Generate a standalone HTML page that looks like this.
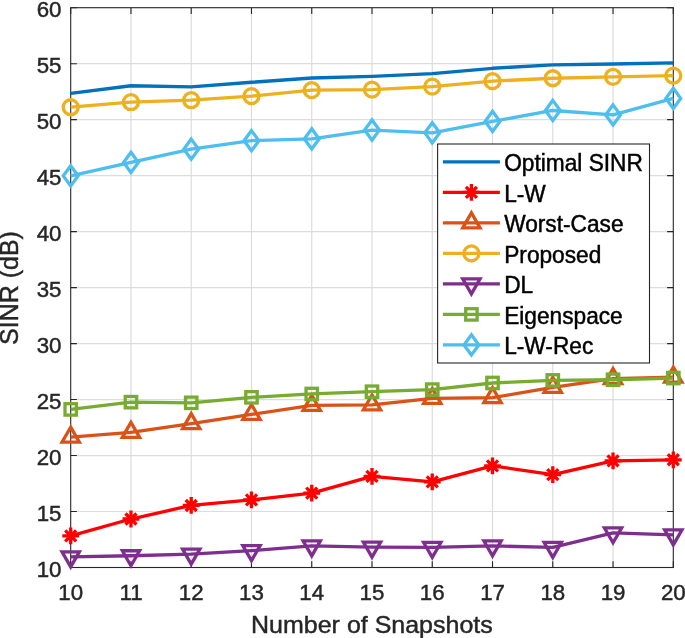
<!DOCTYPE html><html><head><meta charset="utf-8"><title>SINR vs Number of Snapshots</title><style>html,body{margin:0;padding:0;background:#fff;width:685px;height:638px;overflow:hidden;}svg{display:block;filter:blur(0.45px);}text{font-family:"Liberation Sans",Arial,sans-serif;stroke-width:0.45px;}</style></head><body>
<svg width="685" height="638" viewBox="0 0 685 638">
<rect width="685" height="638" fill="#fff"/>
<path d="M130.96 7.7V567.5M191.22 7.7V567.5M251.48 7.7V567.5M311.74 7.7V567.5M372 7.7V567.5M432.26 7.7V567.5M492.52 7.7V567.5M552.78 7.7V567.5M613.04 7.7V567.5M70.7 511.52H673.3M70.7 455.54H673.3M70.7 399.56H673.3M70.7 343.58H673.3M70.7 287.6H673.3M70.7 231.62H673.3M70.7 175.64H673.3M70.7 119.66H673.3M70.7 63.68H673.3" stroke="#dcdcdc" stroke-width="1.2" fill="none"/>
<path d="M70.7 567.5V561.3M70.7 7.7V13.9M70.7 567.5H76.9M673.3 567.5H667.1M130.96 567.5V561.3M130.96 7.7V13.9M70.7 511.52H76.9M673.3 511.52H667.1M191.22 567.5V561.3M191.22 7.7V13.9M70.7 455.54H76.9M673.3 455.54H667.1M251.48 567.5V561.3M251.48 7.7V13.9M70.7 399.56H76.9M673.3 399.56H667.1M311.74 567.5V561.3M311.74 7.7V13.9M70.7 343.58H76.9M673.3 343.58H667.1M372 567.5V561.3M372 7.7V13.9M70.7 287.6H76.9M673.3 287.6H667.1M432.26 567.5V561.3M432.26 7.7V13.9M70.7 231.62H76.9M673.3 231.62H667.1M492.52 567.5V561.3M492.52 7.7V13.9M70.7 175.64H76.9M673.3 175.64H667.1M552.78 567.5V561.3M552.78 7.7V13.9M70.7 119.66H76.9M673.3 119.66H667.1M613.04 567.5V561.3M613.04 7.7V13.9M70.7 63.68H76.9M673.3 63.68H667.1M673.3 567.5V561.3M673.3 7.7V13.9M70.7 7.7H76.9M673.3 7.7H667.1" stroke="#262626" stroke-width="1.1" fill="none"/>
<rect x="70.7" y="7.7" width="602.6" height="559.8" stroke="#262626" stroke-width="1.1" fill="none"/>
<g fill="none" stroke-width="3.3" stroke-linejoin="round">
<polyline points="70.7,93.46 130.96,85.74 191.22,86.97 251.48,82.27 311.74,78.01 372,76.33 432.26,73.53 492.52,68.27 552.78,64.8 613.04,64.02 673.3,62.9" stroke="#0072BD"/>
<polyline points="70.7,535.93 130.96,519.02 191.22,505.47 251.48,499.88 311.74,493.16 372,476.36 432.26,481.85 492.52,465.84 552.78,474.57 613.04,460.91 673.3,459.79" stroke="#FF0000"/>
<g stroke-width="3.3" stroke-linejoin="miter">
<path d="M62.3 535.93H79.1M70.7 527.53V544.33M65.2 530.43L76.2 541.43M65.2 541.43L76.2 530.43" stroke="#FF0000"/>
<path d="M122.56 519.02H139.36M130.96 510.62V527.42M125.46 513.52L136.46 524.52M125.46 524.52L136.46 513.52" stroke="#FF0000"/>
<path d="M182.82 505.47H199.62M191.22 497.07V513.87M185.72 499.97L196.72 510.97M185.72 510.97L196.72 499.97" stroke="#FF0000"/>
<path d="M243.08 499.88H259.88M251.48 491.48V508.28M245.98 494.38L256.98 505.38M245.98 505.38L256.98 494.38" stroke="#FF0000"/>
<path d="M303.34 493.16H320.14M311.74 484.76V501.56M306.24 487.66L317.24 498.66M306.24 498.66L317.24 487.66" stroke="#FF0000"/>
<path d="M363.6 476.36H380.4M372 467.96V484.76M366.5 470.86L377.5 481.86M366.5 481.86L377.5 470.86" stroke="#FF0000"/>
<path d="M423.86 481.85H440.66M432.26 473.45V490.25M426.76 476.35L437.76 487.35M426.76 487.35L437.76 476.35" stroke="#FF0000"/>
<path d="M484.12 465.84H500.92M492.52 457.44V474.24M487.02 460.34L498.02 471.34M487.02 471.34L498.02 460.34" stroke="#FF0000"/>
<path d="M544.38 474.57H561.18M552.78 466.17V482.97M547.28 469.07L558.28 480.07M547.28 480.07L558.28 469.07" stroke="#FF0000"/>
<path d="M604.64 460.91H621.44M613.04 452.51V469.31M607.54 455.41L618.54 466.41M607.54 466.41L618.54 455.41" stroke="#FF0000"/>
<path d="M664.9 459.79H681.7M673.3 451.39V468.19M667.8 454.29L678.8 465.29M667.8 465.29L678.8 454.29" stroke="#FF0000"/>
</g>
<polyline points="70.7,437.18 130.96,432.36 191.22,423.63 251.48,414.45 311.74,405.38 372,404.93 432.26,398.44 492.52,397.66 552.78,387.36 613.04,378.62 673.3,377.17" stroke="#D95319"/>
<g stroke-width="3.3" stroke-linejoin="miter">
<path d="M70.7 427.19L79.35 442.17H62.05Z" stroke="#D95319"/>
<path d="M130.96 422.38L139.61 437.36H122.31Z" stroke="#D95319"/>
<path d="M191.22 413.64L199.87 428.62H182.57Z" stroke="#D95319"/>
<path d="M251.48 404.46L260.13 419.44H242.83Z" stroke="#D95319"/>
<path d="M311.74 395.4L320.39 410.38H303.09Z" stroke="#D95319"/>
<path d="M372 394.95L380.65 409.93H363.35Z" stroke="#D95319"/>
<path d="M432.26 388.45L440.91 403.43H423.61Z" stroke="#D95319"/>
<path d="M492.52 387.67L501.17 402.65H483.87Z" stroke="#D95319"/>
<path d="M552.78 377.37L561.43 392.35H544.13Z" stroke="#D95319"/>
<path d="M613.04 368.64L621.69 383.62H604.39Z" stroke="#D95319"/>
<path d="M673.3 367.18L681.95 382.16H664.65Z" stroke="#D95319"/>
</g>
<polyline points="70.7,107.23 130.96,102.19 191.22,100.18 251.48,96.15 311.74,90.1 372,89.65 432.26,86.63 492.52,81.15 552.78,78.23 613.04,76.78 673.3,75.66" stroke="#EDB120"/>
<g stroke-width="3.3" stroke-linejoin="miter">
<circle cx="70.7" cy="107.23" r="7.5" stroke="#EDB120"/>
<circle cx="130.96" cy="102.19" r="7.5" stroke="#EDB120"/>
<circle cx="191.22" cy="100.18" r="7.5" stroke="#EDB120"/>
<circle cx="251.48" cy="96.15" r="7.5" stroke="#EDB120"/>
<circle cx="311.74" cy="90.1" r="7.5" stroke="#EDB120"/>
<circle cx="372" cy="89.65" r="7.5" stroke="#EDB120"/>
<circle cx="432.26" cy="86.63" r="7.5" stroke="#EDB120"/>
<circle cx="492.52" cy="81.15" r="7.5" stroke="#EDB120"/>
<circle cx="552.78" cy="78.23" r="7.5" stroke="#EDB120"/>
<circle cx="613.04" cy="76.78" r="7.5" stroke="#EDB120"/>
<circle cx="673.3" cy="75.66" r="7.5" stroke="#EDB120"/>
</g>
<polyline points="70.7,556.86 130.96,555.74 191.22,554.18 251.48,550.59 311.74,545.89 372,547.12 432.26,547.46 492.52,545.89 552.78,547.46 613.04,532.79 673.3,534.92" stroke="#7E2F8E"/>
<g stroke-width="3.3" stroke-linejoin="miter">
<path d="M70.7 566.85L79.35 551.87H62.05Z" stroke="#7E2F8E"/>
<path d="M130.96 565.73L139.61 550.75H122.31Z" stroke="#7E2F8E"/>
<path d="M191.22 564.16L199.87 549.18H182.57Z" stroke="#7E2F8E"/>
<path d="M251.48 560.58L260.13 545.6H242.83Z" stroke="#7E2F8E"/>
<path d="M311.74 555.88L320.39 540.9H303.09Z" stroke="#7E2F8E"/>
<path d="M372 557.11L380.65 542.13H363.35Z" stroke="#7E2F8E"/>
<path d="M432.26 557.45L440.91 542.47H423.61Z" stroke="#7E2F8E"/>
<path d="M492.52 555.88L501.17 540.9H483.87Z" stroke="#7E2F8E"/>
<path d="M552.78 557.45L561.43 542.47H544.13Z" stroke="#7E2F8E"/>
<path d="M613.04 542.78L621.69 527.8H604.39Z" stroke="#7E2F8E"/>
<path d="M673.3 544.91L681.95 529.93H664.65Z" stroke="#7E2F8E"/>
</g>
<polyline points="70.7,409.41 130.96,402.14 191.22,402.81 251.48,397.32 311.74,393.96 372,391.72 432.26,389.6 492.52,382.99 552.78,380.41 613.04,379.74 673.3,378.06" stroke="#77AC30"/>
<g stroke-width="3.3" stroke-linejoin="miter">
<rect x="65" y="403.71" width="11.4" height="11.4" stroke="#77AC30"/>
<rect x="125.26" y="396.44" width="11.4" height="11.4" stroke="#77AC30"/>
<rect x="185.52" y="397.11" width="11.4" height="11.4" stroke="#77AC30"/>
<rect x="245.78" y="391.62" width="11.4" height="11.4" stroke="#77AC30"/>
<rect x="306.04" y="388.26" width="11.4" height="11.4" stroke="#77AC30"/>
<rect x="366.3" y="386.02" width="11.4" height="11.4" stroke="#77AC30"/>
<rect x="426.56" y="383.9" width="11.4" height="11.4" stroke="#77AC30"/>
<rect x="486.82" y="377.29" width="11.4" height="11.4" stroke="#77AC30"/>
<rect x="547.08" y="374.71" width="11.4" height="11.4" stroke="#77AC30"/>
<rect x="607.34" y="374.04" width="11.4" height="11.4" stroke="#77AC30"/>
<rect x="667.6" y="372.36" width="11.4" height="11.4" stroke="#77AC30"/>
</g>
<polyline points="70.7,175.86 130.96,162.43 191.22,149.22 251.48,140.71 311.74,138.92 372,130.07 432.26,132.87 492.52,121.45 552.78,110.48 613.04,114.96 673.3,98.39" stroke="#4DBEEE"/>
<g stroke-width="3.3" stroke-linejoin="miter">
<path d="M70.7 165.76L78.1 175.86L70.7 185.96L63.3 175.86Z" stroke="#4DBEEE"/>
<path d="M130.96 152.33L138.36 162.43L130.96 172.53L123.56 162.43Z" stroke="#4DBEEE"/>
<path d="M191.22 139.12L198.62 149.22L191.22 159.32L183.82 149.22Z" stroke="#4DBEEE"/>
<path d="M251.48 130.61L258.88 140.71L251.48 150.81L244.08 140.71Z" stroke="#4DBEEE"/>
<path d="M311.74 128.82L319.14 138.92L311.74 149.02L304.34 138.92Z" stroke="#4DBEEE"/>
<path d="M372 119.97L379.4 130.07L372 140.17L364.6 130.07Z" stroke="#4DBEEE"/>
<path d="M432.26 122.77L439.66 132.87L432.26 142.97L424.86 132.87Z" stroke="#4DBEEE"/>
<path d="M492.52 111.35L499.92 121.45L492.52 131.55L485.12 121.45Z" stroke="#4DBEEE"/>
<path d="M552.78 100.38L560.18 110.48L552.78 120.58L545.38 110.48Z" stroke="#4DBEEE"/>
<path d="M613.04 104.86L620.44 114.96L613.04 125.06L605.64 114.96Z" stroke="#4DBEEE"/>
<path d="M673.3 88.29L680.7 98.39L673.3 108.49L665.9 98.39Z" stroke="#4DBEEE"/>
</g>
</g>
<g fill="#262626" stroke="#262626" font-size="22.3">
<text transform="translate(70.7,599.6) scale(1,1.02)" text-anchor="middle">10</text>
<text transform="translate(130.96,599.6) scale(1,1.02)" text-anchor="middle">11</text>
<text transform="translate(191.22,599.6) scale(1,1.02)" text-anchor="middle">12</text>
<text transform="translate(251.48,599.6) scale(1,1.02)" text-anchor="middle">13</text>
<text transform="translate(311.74,599.6) scale(1,1.02)" text-anchor="middle">14</text>
<text transform="translate(372,599.6) scale(1,1.02)" text-anchor="middle">15</text>
<text transform="translate(432.26,599.6) scale(1,1.02)" text-anchor="middle">16</text>
<text transform="translate(492.52,599.6) scale(1,1.02)" text-anchor="middle">17</text>
<text transform="translate(552.78,599.6) scale(1,1.02)" text-anchor="middle">18</text>
<text transform="translate(613.04,599.6) scale(1,1.02)" text-anchor="middle">19</text>
<text transform="translate(673.3,599.6) scale(1,1.02)" text-anchor="middle">20</text>
<text transform="translate(61.5,577.1) scale(1,1.02)" text-anchor="end">10</text>
<text transform="translate(61.5,521.12) scale(1,1.02)" text-anchor="end">15</text>
<text transform="translate(61.5,465.14) scale(1,1.02)" text-anchor="end">20</text>
<text transform="translate(61.5,409.16) scale(1,1.02)" text-anchor="end">25</text>
<text transform="translate(61.5,353.18) scale(1,1.02)" text-anchor="end">30</text>
<text transform="translate(61.5,297.2) scale(1,1.02)" text-anchor="end">35</text>
<text transform="translate(61.5,241.22) scale(1,1.02)" text-anchor="end">40</text>
<text transform="translate(61.5,185.24) scale(1,1.02)" text-anchor="end">45</text>
<text transform="translate(61.5,129.26) scale(1,1.02)" text-anchor="end">50</text>
<text transform="translate(61.5,73.28) scale(1,1.02)" text-anchor="end">55</text>
<text transform="translate(61.5,17.3) scale(1,1.02)" text-anchor="end">60</text>
</g>
<text fill="#262626" stroke="#262626" font-size="25" transform="translate(371.9,632.5) scale(1,0.99)" text-anchor="middle">Number of Snapshots</text>
<text fill="#262626" stroke="#262626" font-size="25" transform="translate(17.8,288.0) rotate(-90) scale(1,1.03)" text-anchor="middle">SINR (dB)</text>
<rect x="437.6" y="144.0" width="211.9" height="219" fill="#fff" stroke="#262626" stroke-width="1.1"/>
<g fill="none" stroke-width="3.3">
<path d="M442.9 161.9H499.9" stroke="#0072BD"/>
<path d="M442.9 192.4H499.9" stroke="#FF0000"/>
<g stroke-linejoin="miter"><path d="M463 192.4H479.8M471.4 184V200.8M465.9 186.9L476.9 197.9M465.9 197.9L476.9 186.9" stroke="#FF0000"/></g>
<path d="M442.9 222.9H499.9" stroke="#D95319"/>
<g stroke-linejoin="miter"><path d="M471.4 212.91L480.05 227.89H462.75Z" stroke="#D95319"/></g>
<path d="M442.9 253.4H499.9" stroke="#EDB120"/>
<g stroke-linejoin="miter"><circle cx="471.4" cy="253.4" r="7.5" stroke="#EDB120"/></g>
<path d="M442.9 283.9H499.9" stroke="#7E2F8E"/>
<g stroke-linejoin="miter"><path d="M471.4 293.89L480.05 278.91H462.75Z" stroke="#7E2F8E"/></g>
<path d="M442.9 314.4H499.9" stroke="#77AC30"/>
<g stroke-linejoin="miter"><rect x="465.7" y="308.7" width="11.4" height="11.4" stroke="#77AC30"/></g>
<path d="M442.9 344.9H499.9" stroke="#4DBEEE"/>
<g stroke-linejoin="miter"><path d="M471.4 334.8L478.8 344.9L471.4 355L464 344.9Z" stroke="#4DBEEE"/></g>
</g>
<g fill="#000" stroke="#000" font-size="22.7">
<text transform="translate(504.2,171.2) scale(1,1.02)">Optimal SINR</text>
<text transform="translate(504.2,201.7) scale(1,1.02)">L-W</text>
<text transform="translate(504.2,232.2) scale(1,1.02)">Worst-Case</text>
<text transform="translate(504.2,262.7) scale(1,1.02)">Proposed</text>
<text transform="translate(504.2,293.2) scale(1,1.02)">DL</text>
<text transform="translate(504.2,323.7) scale(1,1.02)">Eigenspace</text>
<text transform="translate(504.2,354.2) scale(1,1.02)">L-W-Rec</text>
</g>
</svg></body></html>
